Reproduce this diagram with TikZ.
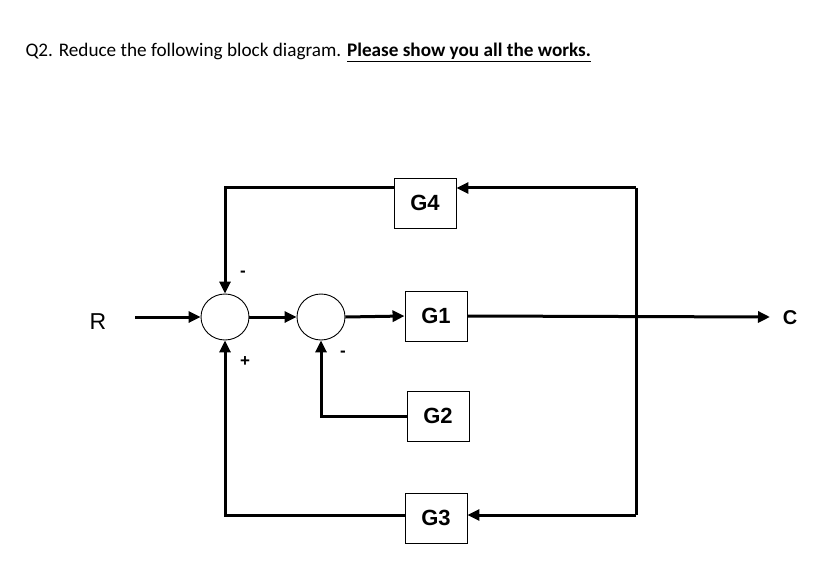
\documentclass[tikz,border=0pt]{standalone}
\usepackage{fontspec}
\setmainfont{Carlito}
\newfontfamily\arialf{Liberation Sans}
\usetikzlibrary{arrows.meta,shapes.geometric}
\begin{document}
\begin{tikzpicture}[x=1pt,y=-1pt,
  blk/.style={draw,line width=0.9pt,minimum width=62pt,minimum height=50pt,font=\arialf\bfseries\fontsize{22}{24}\selectfont,inner sep=0pt},
  sj/.style={draw,ellipse,line width=0.9pt,minimum width=48pt,minimum height=46pt,inner sep=0pt},
  ln/.style={line width=3pt},
  ar/.style={ln,-{Triangle[length=12pt,width=11pt]}},
  sg/.style={font=\arialf\bfseries\fontsize{17}{17}\selectfont}]
\useasboundingbox (0,0) rectangle (836,575);
\node[anchor=base west,font=\fontsize{19.2}{21}\selectfont] (title) at (22,57) {Q2. Reduce the following block diagram. \textbf{\underline{Please show you all the works.}}};
\node[font=\arialf\fontsize{23}{25}\selectfont] (R) at (98,322) {R};
\node[font=\arialf\bfseries\fontsize{20}{22}\selectfont] (C) at (790,318) {C};
\node[sj] (s1) at (225,317) {};
\node[sj] (s2) at (321,317) {};
\node[blk] (g4) at (425,203) {G4};
\node[blk] (g1) at (436,316) {G1};
\node[blk] (g2) at (438,416) {G2};
\node[blk] (g3) at (436,518) {G3};
\coordinate (rs) at (135,317);
\coordinate (ce) at (770,317);
\coordinate (tr) at (636,188);
\coordinate (br) at (636,515);
\draw[ar] (rs) -- (s1.west);
\draw[ar] (s1.east) -- (s2.west);
\draw[ar] (s2.east) -- (g1.west);
\draw[ar] (g1.east) -- (ce);
\draw[ln] (tr) -- (br);
\draw[ar] (tr) -- (g4.east |- tr);
\draw[ar] (g4.west |- tr) -| (s1.north);
\draw[ar] (br) -- (g3.east |- br);
\draw[ar] (g3.west |- br) -| (s1.south);
\draw[ar] (g2.west) -| (s2.south);
\node[sg] (m1) at (243,274) {-};
\node[sg] (p1) at (245,362) {+};
\node[sg] (m2) at (343,354) {-};
\end{tikzpicture}
\end{document}
